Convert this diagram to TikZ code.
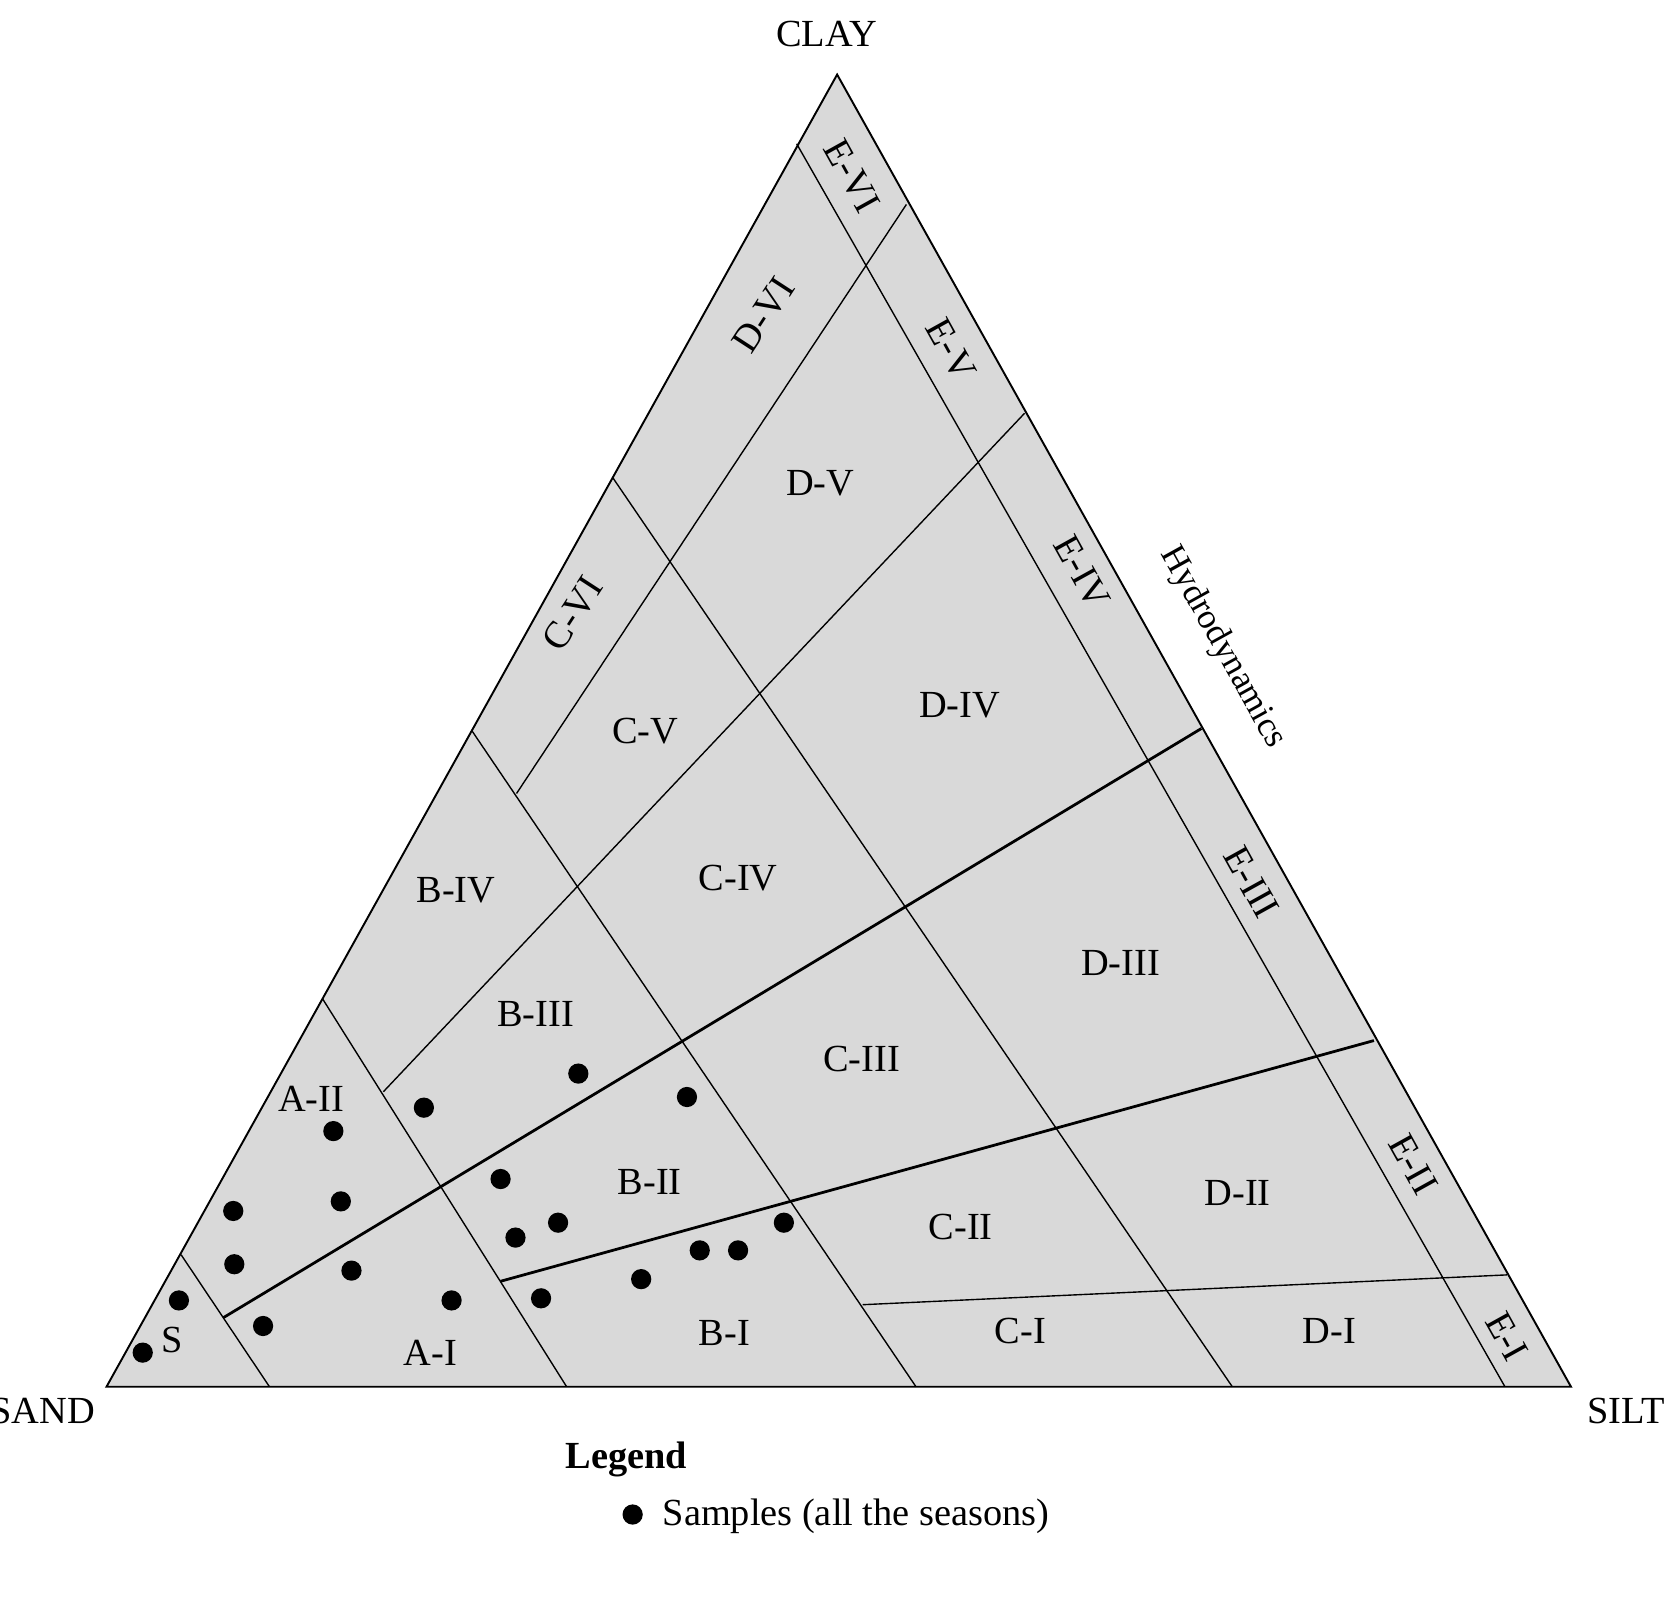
\documentclass[tikz,border=0pt]{standalone}
\usepackage{fontspec}
\setmainfont{Liberation Serif}
\begin{document}
\begin{tikzpicture}[x=1pt,y=-1pt,
  lab/.style={font=\fontsize{36}{40}\selectfont, inner sep=0pt},
  thin line/.style={line width=1.3pt},
  thick line/.style={line width=2.6pt},
  dot/.style={circle, fill=black, minimum size=19pt, inner sep=0pt}]
\useasboundingbox (0,0) rectangle (1568,1515);
\coordinate (sa) at (100,1302); \coordinate (si) at (1475,1302); \coordinate (cl) at (786,70);
\fill[gray!30] (sa) -- (si) -- (cl) -- cycle;
\coordinate (s1) at (170,1178); \coordinate (s2) at (253,1302);
\coordinate (ab1) at (303,938); \coordinate (ab2) at (532,1302);
\coordinate (bc1) at (443,686); \coordinate (bc2) at (860,1302);
\coordinate (cd1) at (575,448); \coordinate (cd2) at (1157,1302);
\coordinate (de1) at (748,135); \coordinate (de2) at (1413,1302);
\coordinate (v61) at (851,192); \coordinate (v62) at (485,745);
\coordinate (v51) at (962,388); \coordinate (v52) at (360,1025);
\coordinate (v41) at (1128,684); \coordinate (v42) at (210,1237);
\coordinate (v31) at (1290,977); \coordinate (v32) at (470,1203);
\coordinate (v21) at (1415,1197); \coordinate (v22) at (810,1225);
\draw[thin line] (s1) -- (s2);
\draw[thin line] (ab1) -- (ab2);
\draw[thin line] (bc1) -- (bc2);
\draw[thin line] (cd1) -- (cd2);
\draw[thin line] (de1) -- (de2);
\draw[thin line] (v61) -- (v62);
\draw[thin line] (v51) -- (v52);
\draw[thick line] (v41) -- (v42);
\draw[thick line] (v31) -- (v32);
\draw[thin line] (v21) -- (v22);
\draw[line width=1.8pt] (sa) -- (si) -- (cl) -- cycle;
\foreach \p [count=\i] in {(134,1270),(168,1221),(247,1245),(220,1187),(219,1137),(313,1062),(320,1128),(330,1193),(424,1221),(398,1040),(543,1008),(645,1030),(470,1107),(524,1148),(484,1162),(508,1219),(602,1201),(657,1174),(693,1174),(736,1148)}
  \node[dot] (d\i) at \p {};
\node[lab] (lS) at (162,1258) {S};
\node[lab] (lAI) at (404,1270) {A-I};
\node[lab] (lAII) at (292,1032) {A-II};
\node[lab] (lBI) at (680,1252) {B-I};
\node[lab] (lBII) at (610,1110) {B-II};
\node[lab] (lBIII) at (503,952) {B-III};
\node[lab] (lBIV) at (428,836) {B-IV};
\node[lab] (lCI) at (958,1250) {C-I};
\node[lab] (lCII) at (902,1152) {C-II};
\node[lab] (lCIII) at (809,994) {C-III};
\node[lab] (lCIV) at (693,824) {C-IV};
\node[lab] (lCV) at (606,686) {C-V};
\node[lab] (lDI) at (1248,1250) {D-I};
\node[lab] (lDII) at (1162,1120) {D-II};
\node[lab] (lDIII) at (1052,904) {D-III};
\node[lab] (lDIV) at (901,662) {D-IV};
\node[lab] (lDV) at (770,454) {D-V};
\node[lab, rotate=57] (lCVI) at (538,576) {C-VI};
\node[lab, rotate=57] (lDVI) at (717,296) {D-VI};
\node[lab, rotate=-61] (lEVI) at (800,165) {E-VI};
\node[lab, rotate=-61] (lEV) at (893,328) {E-V};
\node[lab, rotate=-61] (lEIV) at (1016,537) {E-IV};
\node[lab, rotate=-61] (lEIII) at (1175,828) {E-III};
\node[lab, rotate=-61] (lEII) at (1327,1093) {E-II};
\node[lab, rotate=-61] (lEI) at (1415,1255) {E-I};
\node[lab, rotate=-61, font=\fontsize{33}{36}\selectfont] (lH) at (1148,608) {Hydrodynamics};
\node[lab] (lclay) at (776,32) {CLAY};
\node[lab] (lsand) at (40,1325) {SAND};
\node[lab, anchor=west] (lsilt) at (1490,1325) {SILT};
\node[lab, font=\bfseries\fontsize{36}{40}\selectfont] (lleg) at (588,1370) {Legend};
\node[dot] (ldot) at (594,1422) {};
\node[lab, anchor=west] (lsamp) at (622,1424) {Samples (all the seasons)};
\end{tikzpicture}
\end{document}
